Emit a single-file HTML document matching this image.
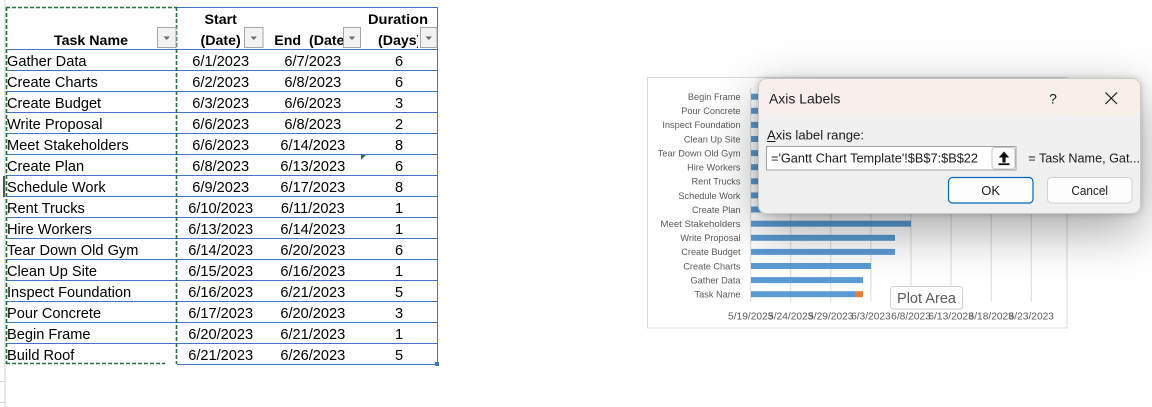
<!DOCTYPE html>
<html>
<head>
<meta charset="utf-8">
<style>
  html,body{margin:0;padding:0;background:#fff;}
  body{width:1152px;height:407px;overflow:hidden;position:relative;font-family:"Liberation Sans",sans-serif;}
  svg{position:absolute;left:0;top:0;}
  .dlg{position:absolute;left:758px;top:78px;width:383px;height:136px;border-radius:8px;background:#f0f0f0;
       box-shadow:0 16px 50px rgba(0,0,0,0.36),0 0 7px rgba(0,0,0,0.2);}
</style>
</head>
<body>
<svg width="1152" height="407" viewBox="0 0 1152 407" font-family="Liberation Sans, sans-serif">
  <defs>
    <clipPath id="cDays"><rect x="360" y="30" width="58" height="20"/></clipPath>
  </defs>
  <!-- sheet left edge -->
  <line x1="5" y1="0" x2="5" y2="407" stroke="#d0d0d0" stroke-width="1"/>
  <line x1="0" y1="381.5" x2="5" y2="381.5" stroke="#d0d0d0"/>
  <line x1="0" y1="402.5" x2="5" y2="402.5" stroke="#d0d0d0"/>
  <rect x="3" y="176" width="2" height="21" fill="#555"/>

  <!-- table borders -->
  <g stroke="#4472c4" stroke-width="1">
    <line x1="177" y1="7.5" x2="438" y2="7.5"/>
    <line x1="437.5" y1="7" x2="437.5" y2="365"/>
    <line x1="6" y1="49.5" x2="437" y2="49.5"/>
    <line x1="6" y1="70.5" x2="437" y2="70.5"/>
    <line x1="6" y1="91.5" x2="437" y2="91.5"/>
    <line x1="6" y1="112.5" x2="437" y2="112.5"/>
    <line x1="6" y1="133.5" x2="437" y2="133.5"/>
    <line x1="6" y1="154.5" x2="437" y2="154.5"/>
    <line x1="6" y1="175.5" x2="437" y2="175.5"/>
    <line x1="6" y1="196.5" x2="437" y2="196.5"/>
    <line x1="6" y1="217.5" x2="437" y2="217.5"/>
    <line x1="6" y1="238.5" x2="437" y2="238.5"/>
    <line x1="6" y1="259.5" x2="437" y2="259.5"/>
    <line x1="6" y1="280.5" x2="437" y2="280.5"/>
    <line x1="6" y1="301.5" x2="437" y2="301.5"/>
    <line x1="6" y1="322.5" x2="437" y2="322.5"/>
    <line x1="6" y1="343.5" x2="437" y2="343.5"/>
    <line x1="177" y1="364.5" x2="437" y2="364.5"/>
  </g>
  <rect x="435" y="362" width="4" height="4" fill="#4472c4"/>

  <!-- green dashed selection -->
  <g stroke="#1f6f3f" stroke-width="1.6" stroke-dasharray="4 2" fill="none">
    <line x1="6.5" y1="7" x2="6.5" y2="364"/>
    <line x1="6" y1="7.5" x2="177" y2="7.5"/>
    <line x1="176.5" y1="7" x2="176.5" y2="364"/>
    <line x1="6" y1="363.5" x2="165" y2="363.5"/>
  </g>

  <!-- header text -->
  <g font-weight="bold" font-size="14.2px" fill="#000">
    <text x="91" y="45" text-anchor="middle" textLength="74" lengthAdjust="spacingAndGlyphs">Task Name</text>
    <text x="220.7" y="24" text-anchor="middle">Start</text>
    <text x="200.5" y="45">(Date)</text>
    <text x="274.3" y="45" style="white-space:pre">End  (Date)</text>
    <text x="398" y="24" text-anchor="middle" textLength="60" lengthAdjust="spacingAndGlyphs">Duration</text>
    <text x="378" y="45" clip-path="url(#cDays)">(Days)</text>
  </g>
  <!-- filter buttons -->
  <g>
    <rect x="157.5" y="27.5" width="18.5" height="20" fill="#f2f2f2" stroke="#a6a6a6"/>
    <polygon points="163.5,36.5 170,36.5 166.75,40" fill="#6a6a6a"/>
    <rect x="244.5" y="27.5" width="18.5" height="20" fill="#f2f2f2" stroke="#a6a6a6"/>
    <polygon points="250.5,36.5 257,36.5 253.75,40" fill="#6a6a6a"/>
    <rect x="343.5" y="27.5" width="17" height="20" fill="#f2f2f2" stroke="#a6a6a6"/>
    <polygon points="348.8,36.5 355.2,36.5 352,40" fill="#6a6a6a"/>
    <rect x="420.5" y="27.5" width="16.5" height="20" fill="#f2f2f2" stroke="#a6a6a6"/>
    <polygon points="425.5,36.5 432,36.5 428.75,40" fill="#6a6a6a"/>
  </g>

  <!-- body rows -->
  <g font-size="14.6px" fill="#000">
    <g>
      <text x="7" y="66">Gather Data</text>
      <text x="7" y="87">Create Charts</text>
      <text x="7" y="108">Create Budget</text>
      <text x="7" y="129">Write Proposal</text>
      <text x="7" y="150">Meet Stakeholders</text>
      <text x="7" y="171">Create Plan</text>
      <text x="7" y="192">Schedule Work</text>
      <text x="7" y="213">Rent Trucks</text>
      <text x="7" y="234">Hire Workers</text>
      <text x="7" y="255">Tear Down Old Gym</text>
      <text x="7" y="276">Clean Up Site</text>
      <text x="7" y="297">Inspect Foundation</text>
      <text x="7" y="318">Pour Concrete</text>
      <text x="7" y="339">Begin Frame</text>
      <text x="7" y="360">Build Roof</text>
    </g>
    <g text-anchor="middle">
      <text x="220.7" y="66">6/1/2023</text>
      <text x="220.7" y="87">6/2/2023</text>
      <text x="220.7" y="108">6/3/2023</text>
      <text x="220.7" y="129">6/6/2023</text>
      <text x="220.7" y="150">6/6/2023</text>
      <text x="220.7" y="171">6/8/2023</text>
      <text x="220.7" y="192">6/9/2023</text>
      <text x="220.7" y="213">6/10/2023</text>
      <text x="220.7" y="234">6/13/2023</text>
      <text x="220.7" y="255">6/14/2023</text>
      <text x="220.7" y="276">6/15/2023</text>
      <text x="220.7" y="297">6/16/2023</text>
      <text x="220.7" y="318">6/17/2023</text>
      <text x="220.7" y="339">6/20/2023</text>
      <text x="220.7" y="360">6/21/2023</text>
    </g>
    <g text-anchor="middle">
      <text x="312.8" y="66">6/7/2023</text>
      <text x="312.8" y="87">6/8/2023</text>
      <text x="312.8" y="108">6/6/2023</text>
      <text x="312.8" y="129">6/8/2023</text>
      <text x="312.8" y="150">6/14/2023</text>
      <text x="312.8" y="171">6/13/2023</text>
      <text x="312.8" y="192">6/17/2023</text>
      <text x="312.8" y="213">6/11/2023</text>
      <text x="312.8" y="234">6/14/2023</text>
      <text x="312.8" y="255">6/20/2023</text>
      <text x="312.8" y="276">6/16/2023</text>
      <text x="312.8" y="297">6/21/2023</text>
      <text x="312.8" y="318">6/20/2023</text>
      <text x="312.8" y="339">6/21/2023</text>
      <text x="312.8" y="360">6/26/2023</text>
    </g>
    <g text-anchor="middle">
      <text x="399" y="66">6</text>
      <text x="399" y="87">6</text>
      <text x="399" y="108">3</text>
      <text x="399" y="129">2</text>
      <text x="399" y="150">8</text>
      <text x="399" y="171">6</text>
      <text x="399" y="192">8</text>
      <text x="399" y="213">1</text>
      <text x="399" y="234">1</text>
      <text x="399" y="255">6</text>
      <text x="399" y="276">1</text>
      <text x="399" y="297">5</text>
      <text x="399" y="318">3</text>
      <text x="399" y="339">1</text>
      <text x="399" y="360">5</text>
    </g>
  </g>
  <polygon points="361,155 366,155 361,160" fill="#1e7b3c"/>

  <!-- chart -->
  <rect x="647.5" y="77.5" width="419.5" height="250.5" fill="#fff" stroke="#d9d9d9"/>
  <g stroke="#d9d9d9" stroke-width="1">
    <line x1="750.7" y1="88" x2="750.7" y2="302"/>
    <line x1="790.7" y1="88" x2="790.7" y2="302"/>
    <line x1="830.8" y1="88" x2="830.8" y2="302"/>
    <line x1="870.9" y1="88" x2="870.9" y2="302"/>
    <line x1="911" y1="88" x2="911" y2="302"/>
    <line x1="951.1" y1="88" x2="951.1" y2="302"/>
    <line x1="991.2" y1="88" x2="991.2" y2="302"/>
    <line x1="1031.3" y1="88" x2="1031.3" y2="302"/>
  </g>
  <g font-size="9.2px" fill="#595959" text-anchor="end">
    <text x="740.5" y="100">Begin Frame</text>
    <text x="740.5" y="114.1">Pour Concrete</text>
    <text x="740.5" y="128.2">Inspect Foundation</text>
    <text x="740.5" y="142.3">Clean Up Site</text>
    <text x="740.5" y="156.4">Tear Down Old Gym</text>
    <text x="740.5" y="170.5">Hire Workers</text>
    <text x="740.5" y="184.6">Rent Trucks</text>
    <text x="740.5" y="198.8">Schedule Work</text>
    <text x="740.5" y="212.9">Create Plan</text>
    <text x="740.5" y="227" textLength="80" lengthAdjust="spacingAndGlyphs">Meet Stakeholders</text>
    <text x="740.5" y="241.1">Write Proposal</text>
    <text x="740.5" y="255.2">Create Budget</text>
    <text x="740.5" y="269.3">Create Charts</text>
    <text x="740.5" y="283.4">Gather Data</text>
    <text x="740.5" y="297.5">Task Name</text>
  </g>
  <g fill="#5b9bd5">
    <rect x="751" y="93.7" width="264" height="6"/>
    <rect x="751" y="107.8" width="256" height="6"/>
    <rect x="751" y="121.9" width="232" height="6"/>
    <rect x="751" y="136" width="224" height="6"/>
    <rect x="751" y="150.1" width="216" height="6"/>
    <rect x="751" y="164.2" width="208" height="6"/>
    <rect x="751" y="178.3" width="200" height="6"/>
    <rect x="751" y="192.4" width="176" height="6"/>
    <rect x="751" y="206.5" width="168" height="6"/>
    <rect x="751" y="220.7" width="160" height="6"/>
    <rect x="751" y="234.8" width="144" height="6"/>
    <rect x="751" y="248.9" width="144" height="6"/>
    <rect x="751" y="263" width="120" height="6"/>
    <rect x="751" y="277.1" width="112" height="6"/>
    <rect x="751" y="291.2" width="104" height="6"/>
  </g>
  <rect x="855" y="291.2" width="8" height="6" fill="#ed7d31"/>
  <g font-size="10.2px" fill="#595959" text-anchor="middle">
    <text x="750.7" y="319.5">5/19/2023</text>
    <text x="790.7" y="319.5">5/24/2023</text>
    <text x="830.8" y="319.5">5/29/2023</text>
    <text x="870.9" y="319.5">6/3/2023</text>
    <text x="911" y="319.5">6/8/2023</text>
    <text x="951.1" y="319.5">6/13/2023</text>
    <text x="991.2" y="319.5">6/18/2023</text>
    <text x="1031.3" y="319.5">6/23/2023</text>
  </g>
</svg>

<div class="dlg"></div>

<svg width="1152" height="407" viewBox="0 0 1152 407" font-family="Liberation Sans, sans-serif">
  <defs>
    <linearGradient id="tg" x1="0" x2="1" y1="0" y2="0">
      <stop offset="0" stop-color="#f8eeed"/>
      <stop offset="1" stop-color="#f7f0e6"/>
    </linearGradient>
  </defs>
  <!-- dialog -->
  <path d="M758,115 V86 Q758,78 766,78 H1133 Q1141,78 1141,86 V115 Z" fill="url(#tg)"/>
  <rect x="758.5" y="78.5" width="382" height="135" rx="8" ry="8" fill="none" stroke="#c9c9c9"/>
  <text x="769" y="103.5" font-size="14px" fill="#1a1a1a" textLength="71.3" lengthAdjust="spacingAndGlyphs">Axis Labels</text>
  <text x="1053" y="103.5" font-size="14px" fill="#1a1a1a" text-anchor="middle">?</text>
  <g stroke="#1a1a1a" stroke-width="1.2">
    <line x1="1105.5" y1="92.5" x2="1117" y2="104"/>
    <line x1="1117" y1="92.5" x2="1105.5" y2="104"/>
  </g>
  <text x="767" y="139.5" font-size="13.1px" fill="#1a1a1a" textLength="97" lengthAdjust="spacingAndGlyphs">Axis label range:</text>
  <line x1="767" y1="141.5" x2="775.5" y2="141.5" stroke="#1a1a1a" stroke-width="1"/>
  <rect x="766.5" y="146.5" width="249.5" height="23.5" fill="#fff" stroke="#a0a0a0"/>
  <text x="771" y="162.5" font-size="12.7px" fill="#1a1a1a" textLength="207" lengthAdjust="spacingAndGlyphs">='Gantt Chart Template'!$B$7:$B$22</text>
  <rect x="992" y="147.5" width="23" height="21.5" rx="3" fill="#fbfbfb" stroke="#c6c6c6"/>
  <polygon points="998.8,157.5 1004,151.5 1009.2,157.5" fill="#111"/>
  <rect x="1002.4" y="157" width="3.2" height="5.5" fill="#111"/>
  <rect x="998.5" y="163.3" width="11" height="1.8" fill="#111"/>
  <text x="1028.3" y="162.5" font-size="13px" fill="#1a1a1a" textLength="111.7" lengthAdjust="spacingAndGlyphs">= Task Name, Gat...</text>
  <rect x="948.5" y="177.5" width="84.5" height="25.5" rx="4" fill="#fdfdfd" stroke="#0067c0" stroke-width="1.2"/>
  <text x="990.7" y="194.8" font-size="13px" fill="#1a1a1a" text-anchor="middle">OK</text>
  <rect x="1047.5" y="177.5" width="84.5" height="25.5" rx="4" fill="#fdfdfd" stroke="#d0d0d0"/>
  <text x="1089.7" y="194.8" font-size="13px" fill="#1a1a1a" text-anchor="middle" textLength="36.7" lengthAdjust="spacingAndGlyphs">Cancel</text>

  <!-- Plot Area tooltip -->
  <rect x="891.5" y="287.5" width="72" height="22.5" rx="3" fill="#000" opacity="0.06"/>
  <rect x="890.5" y="286.5" width="72" height="22.5" rx="3" fill="#fff" stroke="#d2d2d2"/>
  <text x="926.5" y="302.8" font-size="14.4px" fill="#595959" text-anchor="middle" textLength="59" lengthAdjust="spacingAndGlyphs">Plot Area</text>
</svg>
</body>
</html>
